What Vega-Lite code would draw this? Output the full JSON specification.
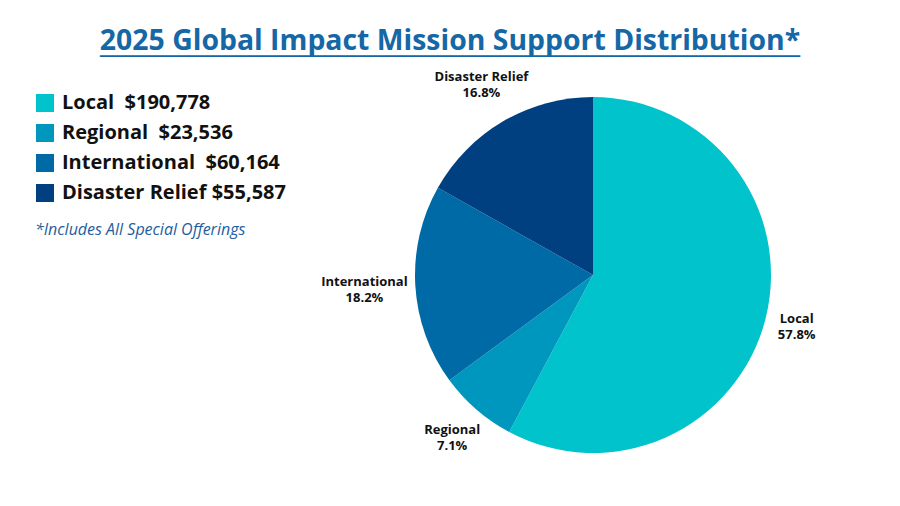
{
  "$schema": "https://vega.github.io/schema/vega-lite/v6.json",
  "width": 614,
  "height": 430,
  "autosize": {"type": "none"},
  "padding": {"left": 286, "top": 60, "right": 0, "bottom": 16},
  "background": "white",
  "title": {
    "text": "2025 Global Impact Mission Support Distribution*",
    "subtitle": "________________________________________________________",
    "font": "Open Sans",
    "fontSize": 28.4,
    "fontWeight": "bold",
    "color": "#1667A6",
    "anchor": "middle",
    "dx": -143,
    "offset": 3,
    "subtitleFont": "DejaVu Sans",
    "subtitleFontSize": 25,
    "subtitleColor": "#1667A6",
    "subtitlePadding": -25
  },
  "config": {"view": {"stroke": null}},
  "data": {
    "values": [
      {"idx": 1, "category": "Local", "legend": "Local\u00a0 $190,778", "amount": 190778, "label": "Local\n57.8%"},
      {"idx": 2, "category": "Regional", "legend": "Regional\u00a0 $23,536", "amount": 23536, "label": "Regional\n7.1%"},
      {"idx": 3, "category": "International", "legend": "International\u00a0 $60,164", "amount": 60164, "label": "International\n18.2%"},
      {"idx": 4, "category": "Disaster Relief", "legend": "Disaster Relief $55,587", "amount": 55587, "label": "Disaster Relief\n16.8%"}
    ]
  },
  "encoding": {
    "theta": {"field": "amount", "type": "quantitative", "stack": true},
    "order": {"field": "idx", "type": "quantitative"}
  },
  "layer": [
    {
      "mark": {"type": "arc", "outerRadius": 178},
      "encoding": {
        "color": {
          "field": "legend",
          "type": "nominal",
          "scale": {
            "domain": ["Local\u00a0 $190,778", "Regional\u00a0 $23,536", "International\u00a0 $60,164", "Disaster Relief $55,587"],
            "range": ["#00C3CB", "#0097BE", "#006AA6", "#003F80"]
          },
          "legend": {
            "orient": "none",
            "legendX": -251,
            "legendY": 33,
            "padding": 0,
            "symbolType": "square",
            "symbolSize": 324,
            "symbolStrokeWidth": 0,
            "labelFont": "Open Sans",
            "labelFontSize": 20,
            "labelFontWeight": "bold",
            "labelColor": "#111111",
            "labelLimit": 400,
            "labelOffset": 7,
            "rowPadding": 10,
            "title": "*Includes All Special Offerings",
            "titleOrient": "bottom",
            "titleFont": "Open Sans",
            "titleFontSize": 16,
            "titleFontStyle": "italic",
            "titleFontWeight": "normal",
            "titleColor": "#1F5E9E",
            "titlePadding": 19,
            "titleLimit": 400
          }
        }
      }
    },
    {
      "mark": {"type": "text", "radius": {"expr": "datum.idx == 3 ? 229 : datum.idx == 4 ? 221 : datum.idx == 2 ? 215 : 210"}, "dy": -7, "font": "Open Sans", "fontSize": 13, "fontWeight": "bold", "lineBreak": "\n", "color": "#111111", "lineHeight": 16},
      "encoding": {
        "text": {"field": "label", "type": "nominal"}
      }
    }
  ]
}
